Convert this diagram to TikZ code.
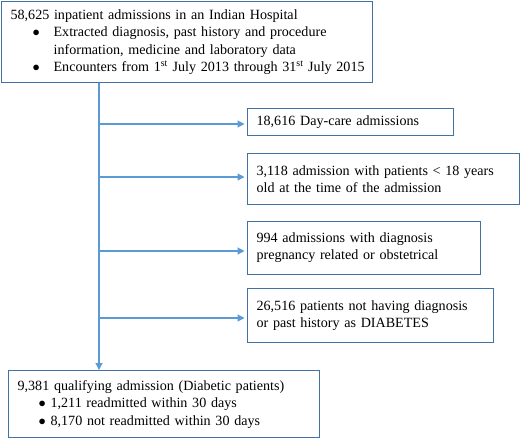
\documentclass[tikz,border=0pt]{standalone}
\usepackage{fontspec}
\setmainfont{Liberation Serif}
\usetikzlibrary{arrows.meta,calc}
\definecolor{boxline}{RGB}{68,114,160}
\definecolor{flowline}{RGB}{91,155,213}
\tikzset{>={Triangle[length=7pt,width=7pt]}}
\tikzset{
  stagebox/.style={draw=boxline,line width=1.2pt,anchor=north west,align=left,
    inner xsep=9pt,inner ysep=0pt,font=\fontsize{14.1}{17}\selectfont},
  flow/.style={draw=flowline,line width=1.2pt}
}
% bullet with its indent and the place where the text starts
\newcommand{\bul}[2]{\makebox[#2][l]{\hspace*{#1}$\bullet$}}
\newcommand{\bulgap}[1]{\makebox[#1]{}}

\begin{document}
\begin{tikzpicture}[x=1pt,y=-1pt]
  \useasboundingbox (0,0) rectangle (520,437);

  % all admissions
  \node[stagebox,minimum width=371pt,minimum height=81pt,text width=353pt,
    font=\fontsize{14.1}{17.6}\selectfont] (all) at (1,1)
    {58,625 inpatient admissions in an Indian Hospital\\
     \bul{22pt}{43pt}Extracted diagnosis, past history and procedure\\
     \bulgap{43pt}information, medicine and laboratory data\\
     \mbox{\bul{22pt}{43pt}Encounters from 1\textsuperscript{st} July 2013 through 31\textsuperscript{st} July 2015}};

  % exclusions
  \node[stagebox,minimum width=206pt,minimum height=27pt,text width=188pt] (daycare) at (247,108)
    {18,616 Day-care admissions};
  \node[stagebox,minimum width=272pt,minimum height=51pt,text width=254pt] (minors) at (247,153)
    {3,118 admission with patients < 18 years\\old at the time of the admission};
  \node[stagebox,minimum width=233pt,minimum height=53pt,text width=215pt] (pregnancy) at (247,221)
    {994 admissions with diagnosis\\pregnancy related or obstetrical};
  \node[stagebox,minimum width=246pt,minimum height=54pt,text width=228pt] (nodiab) at (247,288)
    {26,516 patients not having diagnosis\\or past history as DIABETES};

  % qualifying admissions
  \node[stagebox,minimum width=311pt,minimum height=67pt,text width=293pt,
    font=\fontsize{14.1}{17.5}\selectfont] (diabetic) at (8,370)
    {9,381 qualifying admission (Diabetic patients)\\
     \bul{21pt}{33pt}1,211 readmitted within 30 days\\
     \bul{21pt}{33pt}8,170 not readmitted within 30 days};

  % trunk and branches
  \coordinate (trunk) at (99,0);
  \coordinate (b1) at (99,124);
  \coordinate (b2) at (99,177);
  \coordinate (b3) at (99,251);
  \coordinate (b4) at (99,318);
  \draw[flow,->] (trunk |- all.south) -- (trunk |- diabetic.north);
  \draw[flow,->,shorten >=2.5pt] (b1) -- (b1 -| daycare.west);
  \draw[flow,->,shorten >=2.5pt] (b2) -- (b2 -| minors.west);
  \draw[flow,->,shorten >=2.5pt] (b3) -- (b3 -| pregnancy.west);
  \draw[flow,->,shorten >=2.5pt] (b4) -- (b4 -| nodiab.west);
\end{tikzpicture}
\end{document}
